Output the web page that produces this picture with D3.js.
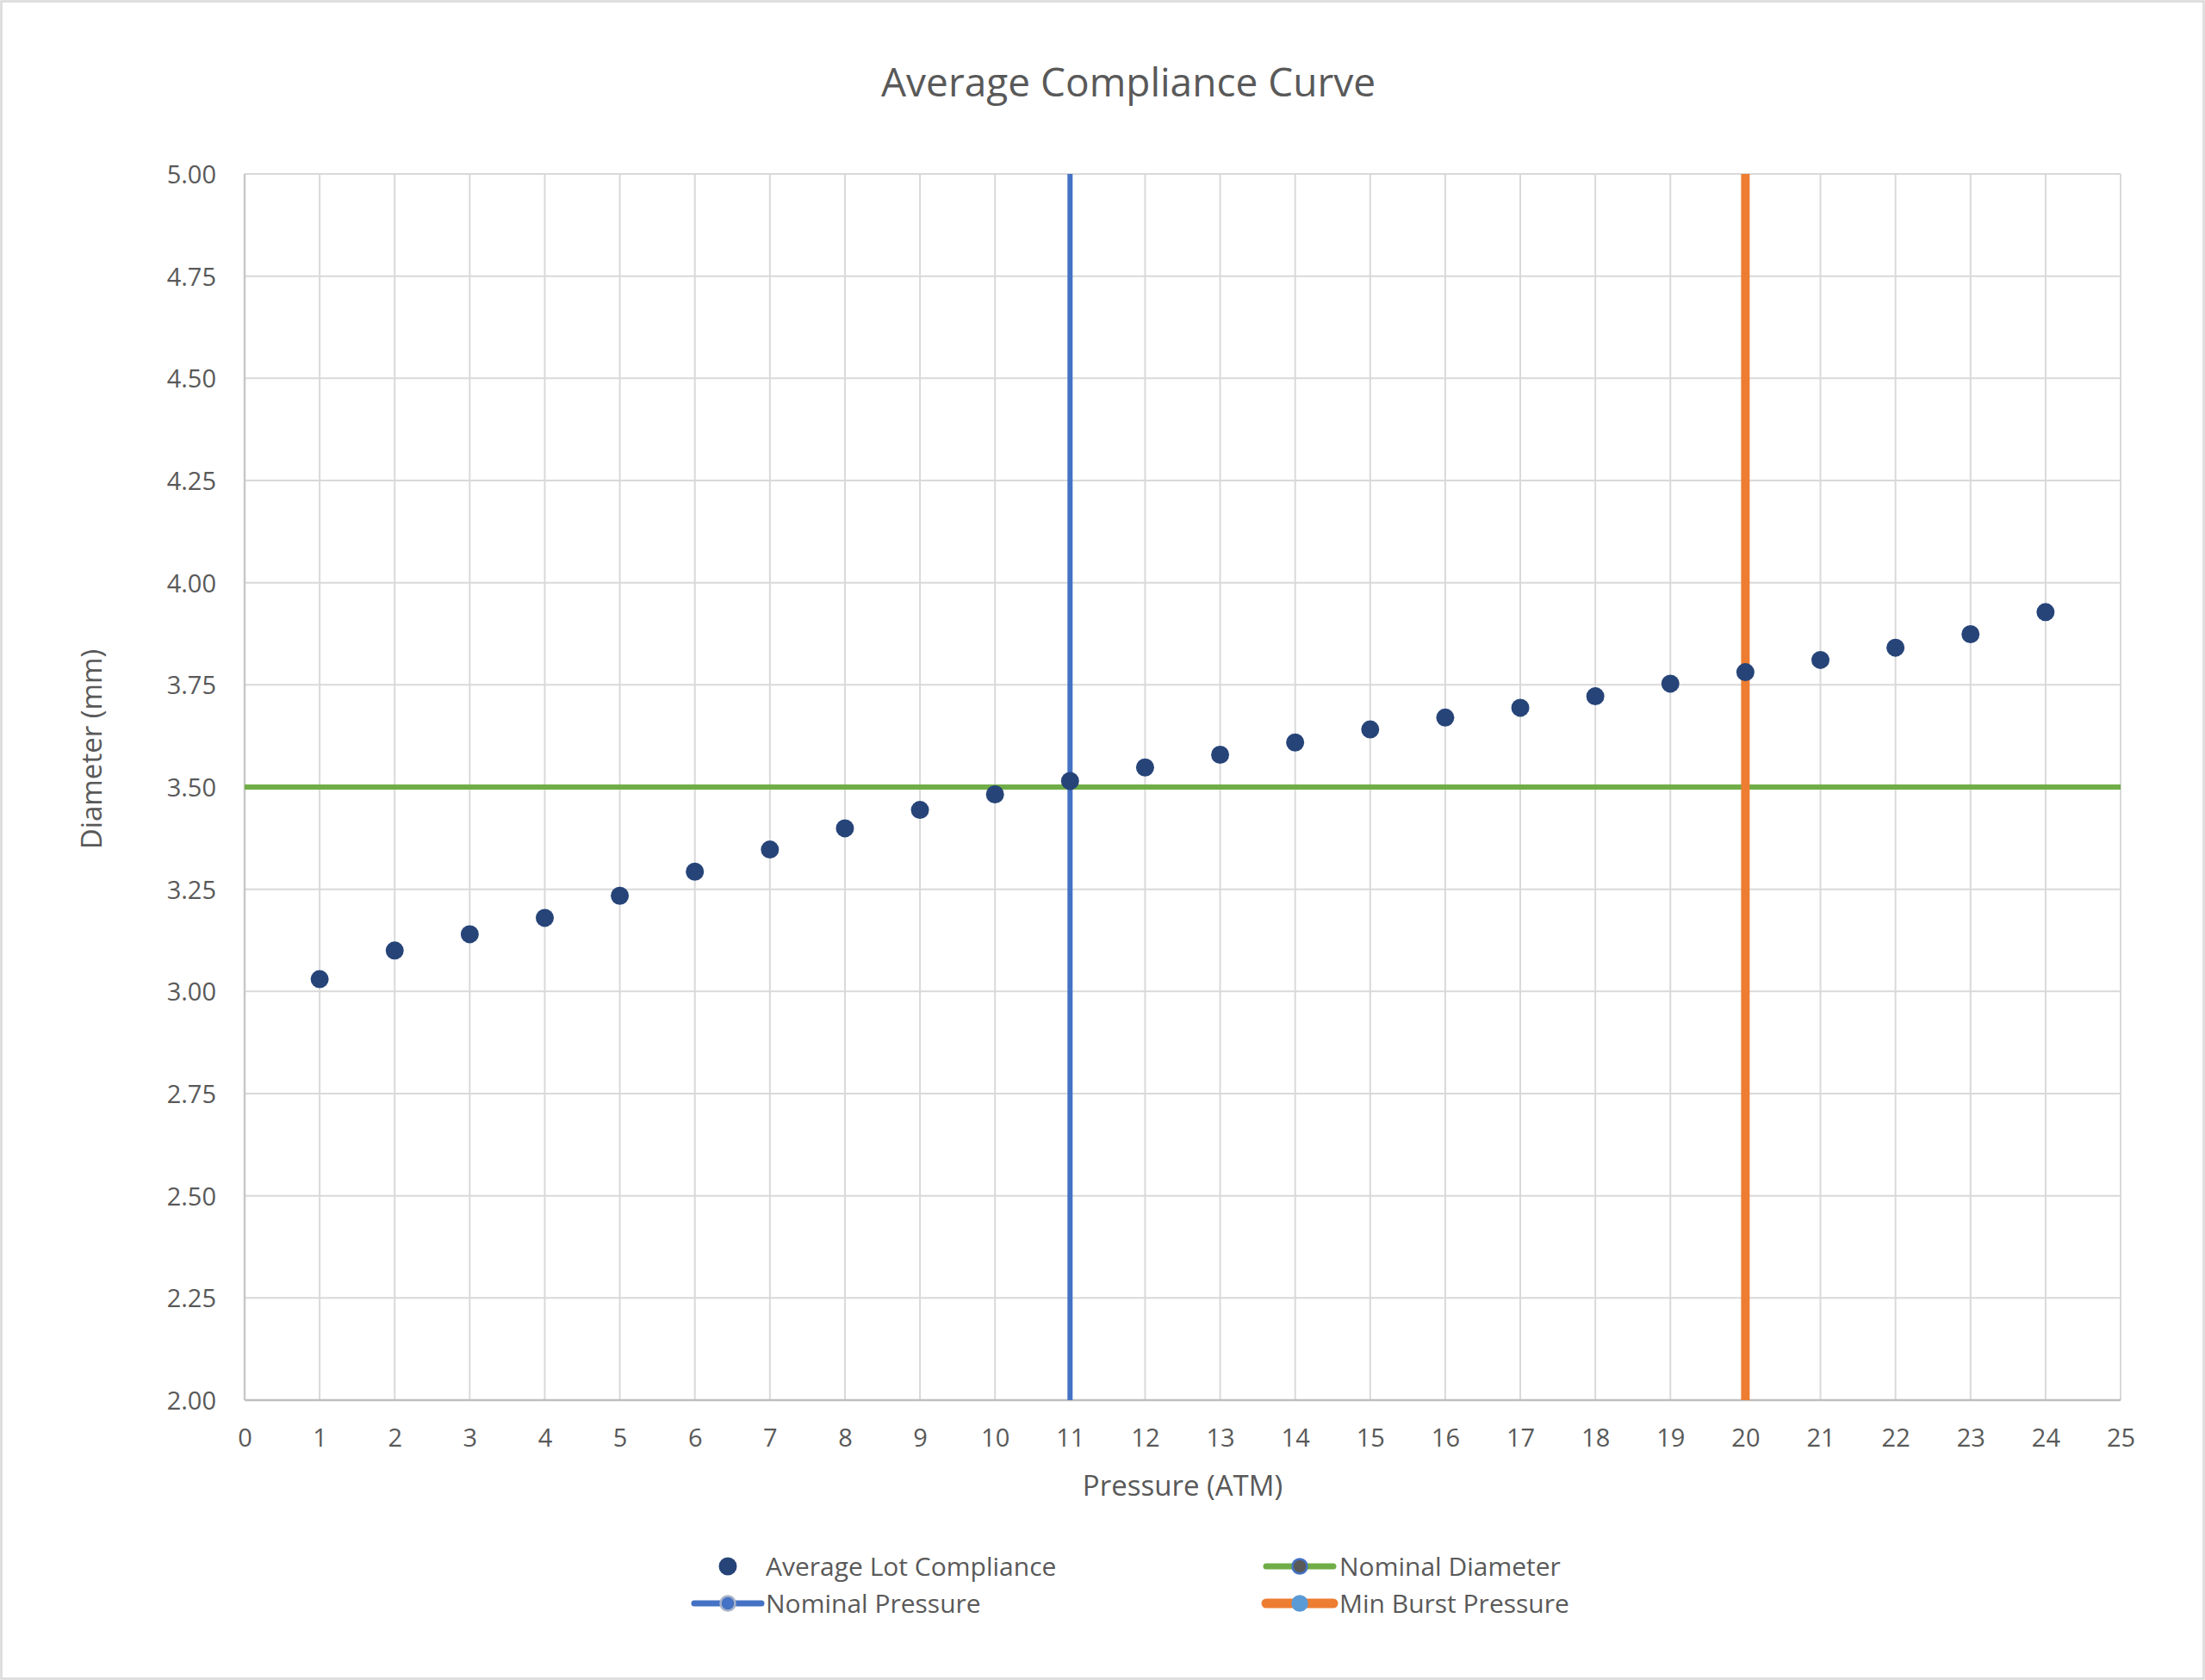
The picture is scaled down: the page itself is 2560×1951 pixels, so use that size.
<!DOCTYPE html>
<html lang="en">
<head>
    <meta charset="UTF-8">
    <title>Average Compliance Curve</title>
    <style type="text/css">
        * {
            margin: 0;
            padding: 0;
        }
        body {
            background: #fff;
        }
        text {
            font-family: 'Open Sans', 'Noto Sans', sans-serif;
            fill: #595959;
        }
    </style>
</head>
<body>
<div id="chart-area"></div>
<script src="https://cdn.jsdelivr.net/npm/d3@7/dist/d3.min.js"></script>
<script type="text/javascript">
    // data
    const pressure = [1, 2, 3, 4, 5, 6, 7, 8, 9, 10, 11, 12, 13, 14, 15, 16, 17, 18, 19, 20, 21, 22, 23, 24]
    const diameter = [3.03, 3.10, 3.14, 3.18, 3.234, 3.293, 3.347, 3.399, 3.444, 3.482, 3.515, 3.548,
                      3.579, 3.609, 3.641, 3.670, 3.694, 3.722, 3.753, 3.781, 3.811, 3.841, 3.874, 3.928]
    const nominalDiameter = [[0, 3.5], [25, 3.5]]
    const nominalPressure = [[11, 2], [11, 5]]
    const minBurstPressure = [[20, 2], [20, 5]]
    const xTicks = d3.range(0, 26, 1)
    const yTicks = [2.00, 2.25, 2.50, 2.75, 3.00, 3.25, 3.50, 3.75, 4.00, 4.25, 4.50, 4.75, 5.00]
    const seriesNames = ['Average Lot Compliance', 'Nominal Diameter', 'Nominal Pressure', 'Min Burst Pressure']

    const width = 2560
    const height = 1951
    const plot = {left: 284, right: 2462, top: 202, bottom: 1626}

    const svg = d3.select('#chart-area').append('svg')
    .attr('width', width)
    .attr('height', height)
    .style('display', 'block')
    .style('background-color', 'white')

    // outer chart border
    svg.append('rect')
    .attr('x', 1.5).attr('y', 1.5)
    .attr('width', width - 3).attr('height', height - 3)
    .attr('fill', 'white')
    .attr('stroke', '#d9d9d9')
    .attr('stroke-width', 2.5)

    const x = d3.scaleLinear()
    .domain([0, 25])
    .range([plot.left, plot.right])

    const y = d3.scaleLinear()
    .domain([2, 5])
    .range([plot.bottom, plot.top])

    // grid
    const grid = svg.append('g')
    grid.selectAll('line.h').data(yTicks).enter().append('line')
    .attr('x1', plot.left).attr('x2', plot.right)
    .attr('y1', d => y(d)).attr('y2', d => y(d))
    .attr('stroke', '#d9d9d9')
    .attr('stroke-width', 2)
    grid.selectAll('line.v').data(xTicks).enter().append('line')
    .attr('y1', plot.top).attr('y2', plot.bottom)
    .attr('x1', d => x(d)).attr('x2', d => x(d))
    .attr('stroke', '#d9d9d9')
    .attr('stroke-width', 2)

    // axis lines
    svg.append('line')
    .attr('x1', plot.left).attr('x2', plot.right)
    .attr('y1', y(2)).attr('y2', y(2))
    .attr('stroke', '#bfbfbf').attr('stroke-width', 2.5)
    svg.append('line')
    .attr('x1', x(0)).attr('x2', x(0))
    .attr('y1', plot.top).attr('y2', plot.bottom)
    .attr('stroke', '#c8c8c8').attr('stroke-width', 2.5)

    // axes labels
    const xAxis = svg.append('g')
    .attr('transform', `translate(0,${plot.bottom})`)
    .call(d3.axisBottom(x).tickValues(xTicks).tickSize(0).tickFormat(d3.format('d')))
    xAxis.select('.domain').remove()
    xAxis.selectAll('text')
    .attr('y', 54).attr('dy', 0)
    .style('font-size', '29px')
    .style('fill', '#595959')

    const yAxis = svg.append('g')
    .attr('transform', `translate(${plot.left},0)`)
    .call(d3.axisLeft(y).tickValues(yTicks).tickSize(0).tickPadding(33).tickFormat(d3.format('.2f')))
    yAxis.select('.domain').remove()
    yAxis.selectAll('text')
    .attr('dy', '0.36em')
    .style('font-size', '29px')
    .style('fill', '#595959')

    // reference lines
    const line = d3.line().x(d => x(d[0])).y(d => y(d[1]))
    svg.append('path').datum(nominalDiameter)
    .attr('d', line).attr('fill', 'none')
    .attr('stroke', '#70ad47').attr('stroke-width', 6)
    svg.append('path').datum(nominalPressure)
    .attr('d', line).attr('fill', 'none')
    .attr('stroke', '#4472c4').attr('stroke-width', 6)
    svg.append('path').datum(minBurstPressure)
    .attr('d', line).attr('fill', 'none')
    .attr('stroke', '#ed7d31').attr('stroke-width', 10)

    // points
    svg.selectAll('circle.pt').data(pressure).enter().append('circle')
    .attr('class', 'pt')
    .attr('cx', d => x(d))
    .attr('cy', (d, i) => y(diameter[i]))
    .attr('r', 10.5)
    .attr('fill', '#264478')

    // titles
    svg.append('text')
    .attr('x', 1310).attr('y', 112)
    .attr('text-anchor', 'middle')
    .style('font-size', '46px')
    .text('Average Compliance Curve')

    svg.append('text')
    .attr('x', (plot.left + plot.right) / 2).attr('y', 1737)
    .attr('text-anchor', 'middle')
    .style('font-size', '33px')
    .text('Pressure (ATM)')

    svg.append('text')
    .attr('transform', 'translate(118,870) rotate(-90)')
    .attr('text-anchor', 'middle')
    .style('font-size', '33px')
    .text('Diameter (mm)')

    // legend
    const legend = svg.append('g')
    const row1 = 1819
    const row2 = 1862

    legend.append('circle')
    .attr('cx', 845).attr('cy', row1).attr('r', 10.5)
    .attr('fill', '#264478')

    const legendLines = [
      {cx: 1509, cy: row1, color: '#70ad47', w: 7, fill: '#595959', ring: '#4472c4'},
      {cx: 845, cy: row2, color: '#4472c4', w: 7, fill: '#4472c4', ring: '#a9b4c8'},
      {cx: 1509, cy: row2, color: '#ed7d31', w: 11, fill: '#5b9bd5', ring: '#5b9bd5'}
    ]
    legendLines.forEach(l => {
      legend.append('line')
      .attr('x1', l.cx - 39).attr('x2', l.cx + 39)
      .attr('y1', l.cy).attr('y2', l.cy)
      .attr('stroke', l.color).attr('stroke-width', l.w)
      .attr('stroke-linecap', 'round')
      legend.append('circle')
      .attr('cx', l.cx).attr('cy', l.cy).attr('r', 8.5)
      .attr('fill', l.fill)
      .attr('stroke', l.ring).attr('stroke-width', 2.5)
    })

    const labelPos = [[889, row1], [1555, row1], [889, row2], [1555, row2]]
    legend.selectAll('text').data(seriesNames).enter().append('text')
    .attr('x', (d, i) => labelPos[i][0])
    .attr('y', (d, i) => labelPos[i][1])
    .attr('dy', '0.36em')
    .style('font-size', '30px')
    .text(d => d)
</script>
</body>
</html>
